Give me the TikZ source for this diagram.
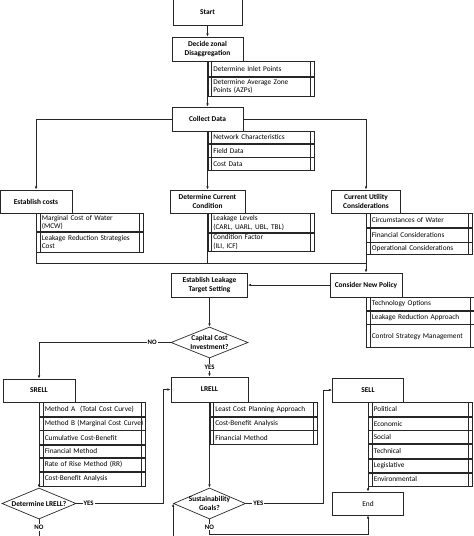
\documentclass[tikz,border=0pt]{standalone}
\usepackage{fontspec}
\setmainfont{Carlito}
\usetikzlibrary{arrows.meta,shapes.geometric}
\begin{document}
\begin{tikzpicture}[x=1pt,y=-1pt,
  lc/.style={draw=black!85, line width=0.7pt},
  box/.style={lc, rectangle, inner sep=0pt, align=center, font=\fontsize{7.4}{8.6}\selectfont\bfseries},
  dia/.style={lc, diamond, inner sep=0pt},
  dtext/.style={font=\fontsize{7.4}{8.6}\selectfont\bfseries, align=center, inner sep=0pt},
  trow/.style={lc, rectangle, anchor=north west, inner xsep=5.5pt, inner ysep=0pt, align=left, font=\fontsize{7.3}{8.6}\selectfont},
  conn/.style={lc},
  arr/.style={lc, -{Latex[length=3.2pt,width=2.6pt]}},
  yn/.style={font=\fontsize{6.8}{7}\selectfont\bfseries, fill=white, inner sep=1pt},
]
\useasboundingbox (0,0) rectangle (474,536);
\clip (0,0) rectangle (474,536);

% main boxes
\node[box, minimum width=69pt, minimum height=26pt] (start) at (207.5,12) {Start};
\node[box, minimum width=71pt, minimum height=24pt] (decide) at (207.5,49) {Decide zonal\\Disaggregation};
\node[box, minimum width=71pt, minimum height=24pt] (collect) at (207.5,119) {Collect Data};
\node[box, minimum width=72pt, minimum height=23pt] (estcosts) at (36,201.5) {Establish costs};
\node[box, minimum width=75pt, minimum height=23pt] (detcur) at (207.5,201.5) {Determine Current\\Condition};
\node[box, minimum width=69pt, minimum height=23pt] (curutil) at (366,201.5) {Current Utility\\Considerations};
\coordinate (merge) at (366,263);
\node[box, minimum width=76pt, minimum height=24pt] (estleak) at (209.5,285) {Establish Leakage\\Target Setting};
\node[box, minimum width=72pt, minimum height=24pt] (newpol) at (366,285) {Consider New Policy};
\node[dia, minimum width=77pt, minimum height=31pt, label={[dtext]center:Capital Cost\\Investment?}] (cap) at (209.5,342.5) {};
\node[box, minimum width=72pt, minimum height=23pt] (srell) at (39,390.5) {SRELL};
\node[box, minimum width=77pt, minimum height=25pt] (lrell) at (209.5,389.5) {LRELL};
\node[box, minimum width=71pt, minimum height=24pt] (sell) at (368,390) {SELL};
\node[dia, minimum width=74pt, minimum height=31pt, label={[dtext]center:Determine LRELL?}] (detl) at (39,503.5) {};
\node[dia, minimum width=72pt, minimum height=31pt, label={[dtext]center:Sustainability\\Goals?}] (sust) at (209.5,503.5) {};
\node[box, minimum width=71pt, minimum height=23pt, font=\fontsize{7.4}{8.6}\selectfont] (end) at (368,503.5) {End};

% table 1
\node[trow, text width=95pt, minimum height=15pt] (t1a) at (207.5,61) {Determine Inlet Points};
\node[trow, text width=95pt, minimum height=19pt] (t1b) at (t1a.south west) {\mbox{Determine Average Zone}\\Points (AZPs)};
\draw[conn] ([xshift=4pt]t1a.north west) -- ([xshift=4pt]t1b.south west) ([xshift=-4pt]t1a.north east) -- ([xshift=-4pt]t1b.south east);
% table 2
\node[trow, text width=95pt, minimum height=12pt] (t2a) at (207.5,131) {Network Characteristics};
\node[trow, text width=95pt, minimum height=13pt] (t2b) at (t2a.south west) {Field Data};
\node[trow, text width=95pt, minimum height=13pt] (t2c) at (t2b.south west) {Cost Data};
\draw[conn] ([xshift=4pt]t2a.north west) -- ([xshift=4pt]t2c.south west) ([xshift=-4pt]t2a.north east) -- ([xshift=-4pt]t2c.south east);
% table 3
\node[trow, text width=96pt, minimum height=18pt] (t3a) at (36,213) {Marginal Cost of Water\\(MCW)};
\node[trow, text width=96pt, minimum height=20pt] (t3b) at (t3a.south west) {\mbox{Leakage Reduction Strategies}\\Cost};
\draw[conn] ([xshift=4pt]t3a.north west) -- ([xshift=4pt]t3b.south west) ([xshift=-4pt]t3a.north east) -- ([xshift=-4pt]t3b.south east);
% table 4
\node[trow, text width=95pt, minimum height=19pt] (t4a) at (207.5,213) {Leakage Levels\\\mbox{(CARL, UARL, UBL, TBL)}};
\node[trow, text width=95pt, minimum height=18pt] (t4b) at (t4a.south west) {Condition Factor\\(ILI, ICF)};
\draw[conn] ([xshift=4pt]t4a.north west) -- ([xshift=4pt]t4b.south west) ([xshift=-4pt]t4a.north east) -- ([xshift=-4pt]t4b.south east);
% table 5
\node[trow, text width=95pt, minimum height=14pt] (t5a) at (366,213) {Circumstances of Water};
\node[trow, text width=95pt, minimum height=14pt] (t5b) at (t5a.south west) {\mbox{Financial Considerations}};
\node[trow, text width=95pt, minimum height=12pt] (t5c) at (t5b.south west) {\mbox{Operational Considerations}};
\draw[conn] ([xshift=4pt]t5a.north west) -- ([xshift=4pt]t5c.south west) ([xshift=-4pt]t5a.north east) -- ([xshift=-4pt]t5c.south east);
% table 6
\node[trow, text width=97pt, minimum height=13pt] (t6a) at (366,297) {Technology Options};
\node[trow, text width=97pt, minimum height=13pt] (t6b) at (t6a.south west) {\mbox{Leakage Reduction Approach}};
\node[trow, text width=97pt, minimum height=23pt] (t6c) at (t6b.south west) {\mbox{Control Strategy Management}};
\draw[conn] ([xshift=4pt]t6a.north west) -- ([xshift=4pt]t6c.south west) ([xshift=-4pt]t6a.north east) -- ([xshift=-4pt]t6c.south east);
% table 7
\node[trow, text width=95pt, minimum height=14pt] (t7a) at (39,402) {\mbox{Method A\ \ (Total Cost Curve)}};
\node[trow, text width=95pt, minimum height=13pt] (t7b) at (t7a.south west) {\mbox{Method B (Marginal Cost Curve)}};
\node[trow, text width=95pt, minimum height=14pt] (t7c) at (t7b.south west) {\mbox{Cumulative Cost-Benefit}};
\node[trow, text width=95pt, minimum height=12pt] (t7d) at (t7c.south west) {Financial Method};
\node[trow, text width=95pt, minimum height=13pt] (t7e) at (t7d.south west) {\mbox{Rate of Rise Method (RR)}};
\node[trow, text width=95pt, minimum height=14pt] (t7f) at (t7e.south west) {\mbox{Cost-Benefit Analysis}};
\draw[conn] ([xshift=4pt]t7a.north west) -- ([xshift=4pt]t7f.south west) ([xshift=-4pt]t7a.north east) -- ([xshift=-4pt]t7f.south east);
% table 8
\node[trow, text width=96pt, minimum height=14pt] (t8a) at (209.5,402) {\mbox{Least Cost Planning Approach}};
\node[trow, text width=96pt, minimum height=13pt] (t8b) at (t8a.south west) {\mbox{Cost-Benefit Analysis}};
\node[trow, text width=96pt, minimum height=14pt] (t8c) at (t8b.south west) {Financial Method};
\draw[conn] ([xshift=4pt]t8a.north west) -- ([xshift=4pt]t8c.south west) ([xshift=-4pt]t8a.north east) -- ([xshift=-4pt]t8c.south east);
% table 9
\node[trow, text width=93pt, minimum height=14pt] (t9a) at (368,402) {Political};
\node[trow, text width=93pt, minimum height=13pt] (t9b) at (t9a.south west) {Economic};
\node[trow, text width=93pt, minimum height=13pt] (t9c) at (t9b.south west) {Social};
\node[trow, text width=93pt, minimum height=14pt] (t9d) at (t9c.south west) {Technical};
\node[trow, text width=93pt, minimum height=13pt] (t9e) at (t9d.south west) {Legislative};
\node[trow, text width=93pt, minimum height=13pt] (t9f) at (t9e.south west) {Environmental};
\draw[conn] ([xshift=4pt]t9a.north west) -- ([xshift=4pt]t9f.south west) ([xshift=-4pt]t9a.north east) -- ([xshift=-4pt]t9f.south east);

% connectors
\draw[arr] (start.south) -- (decide.north);
\draw[arr] (decide.south) -- (collect.north);
\draw[arr] (collect.west) -| (estcosts.north);
\draw[arr] (collect.east) -| (curutil.north);
\draw[arr] (collect.south) -- (detcur.north);
\draw[conn] (estcosts.south) |- (merge);
\draw[conn] (detcur.south) -- (detcur.south |- merge);
\draw[arr] (curutil.south) -- (newpol.north);
\draw[arr] (newpol.west) -- (estleak.east);
\draw[arr] (estleak.south) -- (cap.north);
\draw[arr] (cap.west) -| node[yn, pos=0.07]{NO} (srell.north);
\draw[arr] (cap.south) -- node[yn, pos=0.5]{YES} (lrell.north);
\draw[arr] (srell.south) -- (detl.north);
\draw[arr] (detl.east) -- node[yn, pos=0.14]{YES} ++(87,0) |- (lrell.west);
\draw[arr] (lrell.south) -- (sust.north);
\draw[arr] (sust.east) -- node[yn, pos=0.16]{YES} ++(77.5,0) |- (sell.west);
\draw[arr] (sell.south) -- (end.north);
\draw[arr] (sust.south) -- node[yn, pos=0.5]{NO} ++(0,15) -| (end.south);
\draw[arr] (detl.south) -- node[yn, pos=0.27]{NO} ++(0,30) -| (sust.west);
\end{tikzpicture}
\end{document}
